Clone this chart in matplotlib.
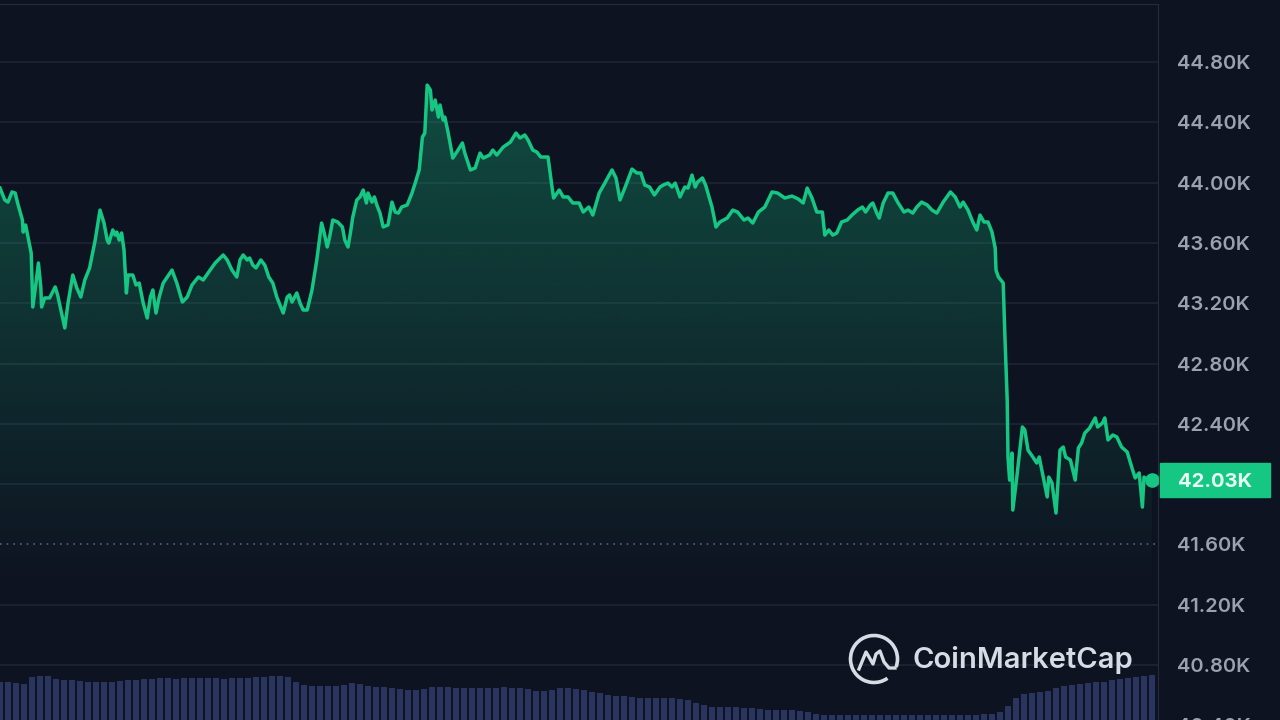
import numpy as np
import matplotlib
matplotlib.use("Agg")
import matplotlib.pyplot as plt
from matplotlib.patches import Polygon, Rectangle, Arc
from matplotlib.transforms import blended_transform_factory

# minutes since window start / BTC price in USD
times = [0, 6, 10, 15, 19, 22, 28, 29, 32, 35,
         39, 41, 45, 48, 51, 52, 56, 62, 69, 72,
         78, 81, 85, 91, 96, 101, 106, 112, 119, 125,
         130, 134, 136, 141, 144, 146, 149, 152, 155, 158,
         160, 166, 170, 174, 179, 184, 188, 191, 195, 199,
         204, 215, 221, 228, 234, 240, 248, 254, 260, 269,
         279, 284, 290, 296, 300, 304, 309, 312, 316, 320,
         326, 331, 336, 341, 346, 350, 354, 359, 362, 365,
         371, 375, 379, 384, 390, 396, 402, 405, 409, 412,
         416, 422, 428, 431, 435, 438, 441, 446, 450, 454,
         458, 460, 465, 468, 471, 475, 479, 485, 490, 494,
         498, 502, 509, 515, 519, 524, 528, 531, 534, 538,
         540, 544, 548, 550, 554, 556, 560, 566, 571, 578,
         581, 588, 594, 600, 604, 612, 616, 621, 629, 638,
         645, 650, 656, 660, 666, 671, 676, 685, 690, 692,
         699, 704, 710, 716, 724, 729, 736, 741, 749, 756,
         765, 770, 775, 781, 790, 796, 801, 806, 812, 818,
         825, 829, 835, 840, 844, 850, 856, 860, 865, 869,
         872, 878, 882, 890, 895, 900, 909, 916, 922, 930,
         935, 941, 948, 956, 965, 972, 981, 990, 998, 1004,
         1009, 1015, 1021, 1028, 1031, 1036, 1041, 1046, 1052, 1059,
         1065, 1072, 1078, 1082, 1088, 1091, 1096, 1099, 1104, 1110,
         1116, 1122, 1130, 1135, 1141, 1146, 1152, 1159, 1165, 1171,
         1179, 1188, 1194, 1200, 1204, 1210, 1216, 1221, 1225, 1230,
         1235, 1240, 1244, 1245, 1248, 1254, 1256, 1259, 1260, 1262,
         1265, 1266, 1271, 1278, 1281, 1285, 1291, 1296, 1299, 1304,
         1309, 1311, 1315, 1320, 1325, 1329, 1332, 1338, 1341, 1344,
         1348, 1352, 1356, 1362, 1369, 1372, 1378, 1381, 1385, 1391,
         1396, 1402, 1409, 1415, 1419, 1424, 1428, 1430, 1435, 1440]
prices = [43964, 43885, 43871, 43938, 43931, 43865, 43752, 43672, 43719, 43639,
          43533, 43175, 43334, 43467, 43308, 43175, 43235, 43235, 43308, 43255,
          43109, 43036, 43201, 43387, 43301, 43241, 43354, 43434, 43619, 43818,
          43732, 43619, 43599, 43686, 43652, 43672, 43619, 43666, 43553, 43268,
          43387, 43387, 43321, 43334, 43201, 43102, 43241, 43288, 43135, 43241,
          43334, 43420, 43334, 43208, 43241, 43321, 43374, 43354, 43400, 43467,
          43520, 43487, 43420, 43374, 43487, 43520, 43487, 43500, 43453, 43434,
          43487, 43453, 43374, 43334, 43241, 43188, 43135, 43241, 43255, 43208,
          43268, 43201, 43155, 43155, 43288, 43487, 43732, 43672, 43573, 43639,
          43752, 43739, 43706, 43619, 43573, 43666, 43772, 43885, 43905, 43951,
          43865, 43931, 43871, 43905, 43852, 43798, 43706, 43719, 43871, 43805,
          43798, 43838, 43852, 43931, 43997, 44084, 44302, 44329, 44647, 44614,
          44482, 44548, 44435, 44515, 44415, 44435, 44336, 44163, 44203, 44263,
          44196, 44084, 44097, 44196, 44163, 44183, 44216, 44183, 44236, 44269,
          44329, 44296, 44316, 44283, 44216, 44203, 44170, 44170, 43971, 43898,
          43951, 43905, 43905, 43865, 43865, 43805, 43838, 43785, 43931, 43997,
          44084, 44031, 43885, 43964, 44090, 44064, 44064, 43984, 43971, 43918,
          43971, 43984, 43997, 43971, 43997, 43905, 43971, 43964, 44050, 43971,
          44004, 44031, 43984, 43838, 43706, 43739, 43765, 43818, 43805, 43752,
          43765, 43732, 43805, 43838, 43938, 43931, 43898, 43911, 43891, 43865,
          43964, 43898, 43805, 43805, 43652, 43686, 43652, 43666, 43739, 43752,
          43785, 43818, 43838, 43805, 43852, 43865, 43798, 43765, 43865, 43931,
          43931, 43871, 43805, 43818, 43798, 43838, 43871, 43852, 43818, 43798,
          43871, 43938, 43905, 43838, 43871, 43818, 43739, 43686, 43785, 43739,
          43739, 43672, 43566, 43420, 43374, 43334, 43002, 42558, 42180, 42027,
          42206, 41828, 42047, 42379, 42359, 42226, 42180, 42140, 42180, 42047,
          41915, 42047, 42007, 41808, 42226, 42246, 42180, 42160, 42094, 42027,
          42240, 42273, 42339, 42372, 42439, 42379, 42405, 42439, 42293, 42326,
          42313, 42246, 42213, 42107, 42041, 42074, 41848, 42047, 42027, 42030]

# volume per 10 minute bucket (relative units)
volume = [38, 38, 37, 36, 43, 44, 44, 41, 40, 40, 39,
          38, 38, 38, 38, 39, 40, 40, 41, 41, 42, 42, 41, 42,
          42, 42, 42, 42, 41, 42, 42, 42, 43, 43, 44, 44, 43, 38,
          35, 34, 34, 34, 34, 35, 37, 36, 34, 33, 33, 32,
          31, 30, 30, 31, 33, 33, 33,
          32, 32, 32, 32, 32, 32, 33, 32, 32, 31, 29, 29, 30,
          32, 32, 31, 30, 28, 27, 25, 24, 24, 23,
          22, 22, 22, 22, 22, 21, 20, 17, 15,
          13, 13, 13, 13, 12, 12, 11, 10, 10, 10, 10, 9, 8,
          6, 5, 5, 5, 5, 5, 5, 5, 5, 5, 5, 5, 5, 5, 5, 5, 5, 5, 5, 5, 5, 6, 6, 8,
          14, 22, 26, 27, 28, 29, 32, 34, 35, 36, 37, 38, 38,
          40, 41, 42, 43, 44, 45]
vol_step = 10

tick_values = [40400, 40800, 41200, 41600, 42000, 42400, 42800, 43200, 43600, 44000, 44400, 44800]
tick_labels = ["40.40K", "40.80K", "41.20K", "41.60K", "", "42.40K", "42.80K",
               "43.20K", "43.60K", "44.00K", "44.40K", "44.80K"]
last_label = "42.03K"
ref_price = 41600

bg = "#0e1321"
green = "#16c784"
grid_c = "#1f2436"
label_c = "#9ca1ad"

W, H = 1280, 720
plot_w = 1158
fig = plt.figure(figsize=(W / 100, H / 100), dpi=100, facecolor=bg)

vol_ax = fig.add_axes([0, 0, plot_w / W, 100 / H])
vol_ax.set_facecolor("none")
vol_ax.bar(np.arange(len(volume)) * vol_step, volume, width=vol_step * 0.78,
           color="#29355f", linewidth=0)
vol_ax.set_xlim(0, 1447.5)
vol_ax.set_ylim(0, 100)
vol_ax.axis("off")

ax = fig.add_axes([0, -40 / H, plot_w / W, 756 / H])
ax.set_facecolor("none")
ymin, ymax = 40170, 45185
ax.set_xlim(0, 1447.5)
ax.set_ylim(ymin, ymax)

for v in tick_values:
    if v == ref_price:
        ax.axhline(v, color="#5c6273", lw=1.2, ls=(0, (1, 3)), zorder=1)
    else:
        ax.axhline(v, color=grid_c, lw=1.2, zorder=1)

# gradient fill under the line
grad = np.zeros((256, 1, 4))
grad[:, 0, :3] = matplotlib.colors.to_rgb(green)
grad[:, 0, 3] = np.linspace(0.37, 0.0, 256)
fill_bottom = 41300
im = ax.imshow(grad, extent=[0, 1447.5, fill_bottom, ymax], origin="upper",
               aspect="auto", zorder=2, interpolation="bilinear")
verts = [(times[0], ymin)] + list(zip(times, prices)) + [(times[-1], ymin)]
clip = Polygon(verts, closed=True, facecolor="none", edgecolor="none")
ax.add_patch(clip)
im.set_clip_path(clip)

ax.plot(times, prices, color=green, lw=2.5, zorder=4, solid_joinstyle="round")
ax.plot(times[-1], prices[-1], "o", color=green, ms=9.5, zorder=5)

ax.yaxis.tick_right()
ax.set_yticks(tick_values)
ax.set_yticklabels(tick_labels)
ax.tick_params(axis="y", length=0, pad=14, labelsize=14.5, labelcolor=label_c)
for t in ax.get_yticklabels():
    t.set_fontfamily("Inter")
    t.set_fontweight("semibold")
ax.set_xticks([])
for s in ["left", "bottom"]:
    ax.spines[s].set_visible(False)
ax.spines["right"].set_color("#262b3c")
ax.spines["top"].set_color("#262b3c")

# last price tag
trans = blended_transform_factory(fig.transFigure, ax.transData)
px = (ymax - ymin) / 756
ax.add_patch(Rectangle((1160 / W, prices[-1] - 17 * px), 110 / W, 34 * px,
                       transform=trans, color=green, clip_on=False, zorder=6))
ax.text(1178 / W, prices[-1], last_label, transform=trans, va="center_baseline",
        ha="left", fontsize=14.5, fontfamily="Inter", fontweight="bold",
        color="#e9fff5", zorder=7)

# watermark
lax = fig.add_axes([0, 0, 1, 1])
lax.set_xlim(0, W)
lax.set_ylim(H, 0)
lax.axis("off")
lax.add_patch(Arc((874, 659), 47, 47, theta1=55, theta2=380, color="#d7dbe3", lw=2.6))
lax.plot([859, 866, 869, 873, 876, 880, 884, 889, 895],
         [669, 652, 657, 664, 654, 651, 662, 668, 668], color="#d7dbe3", lw=2.4,
         solid_joinstyle="round")
lax.text(912, 660, "CoinMarketCap", fontsize=21, fontfamily="Inter",
         fontweight="semibold", color="#d7dbe3", va="center", ha="left")

fig.savefig("out.png", dpi=100, facecolor=bg)
